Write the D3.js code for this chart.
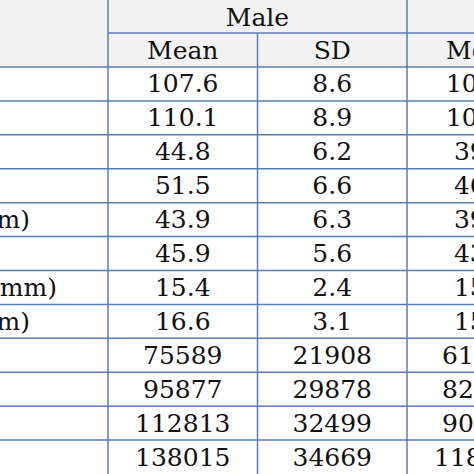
<!DOCTYPE html>
<html><head><meta charset="utf-8">
<script src="https://cdn.jsdelivr.net/npm/d3@7"></script>
<style>body{margin:0;background:#fff;overflow:hidden}</style>
</head><body>
<script>
var labels = ["", "", "", "", "Height (mm)", "", "Thickness (mm)", "Depth (mm)", "", "", "", ""];
var maleMean = ["107.6", "110.1", "44.8", "51.5", "43.9", "45.9", "15.4", "16.6", "75589", "95877", "112813", "138015"];
var maleSD = ["8.6", "8.9", "6.2", "6.6", "6.3", "5.6", "2.4", "3.1", "21908", "29878", "32499", "34669"];
var femaleMean = ["103.2", "105.8", "39.7", "46.1", "39.5", "43.2", "15.1", "15.9", "61204", "82310", "90415", "118327"];

var W = 474, H = 474, line = "#5a7db4";
var svg = d3.select("body").append("svg").attr("width", W).attr("height", H);

var x = d3.scaleLinear().domain([0, 2]).range([108, 407]);
var rowY = d3.scaleLinear().domain([0, 12]).range([67, 474]);
var rows = d3.range(maleMean.length);

svg.append("rect").attr("width", W).attr("height", 67).attr("fill", "#f2f2f2");
svg.append("rect").attr("y", 67).attr("width", W).attr("height", H - 67).attr("fill", "#fff");

var font = "'DejaVu Serif', serif";
var txt = function (sel) {
    return sel.attr("font-family", font).attr("font-size", 25).attr("fill", "#111")
        .attr("dominant-baseline", "central");
};

// header
txt(svg.append("text").attr("x", (x(0) + x(2)) / 2).attr("y", 17).attr("text-anchor", "middle").text("Male"));
[["Mean", 0], ["SD", 1], ["Mean", 2]].forEach(function (h) {
    txt(svg.append("text").attr("x", (x(h[1]) + x(h[1] + 1)) / 2).attr("y", 50)
        .attr("text-anchor", "middle").text(h[0]));
});

var cols = [maleMean, maleSD, femaleMean];
cols.forEach(function (col, ci) {
    txt(svg.append("g").selectAll("text").data(rows).enter().append("text")
        .attr("x", (x(ci) + x(ci + 1)) / 2)
        .attr("y", function (i) { return (rowY(i) + rowY(i + 1)) / 2; })
        .attr("text-anchor", "middle")
        .text(function (i) { return col[i]; }));
});

txt(svg.append("g").selectAll("text").data(rows).enter().append("text")
    .attr("x", function (i) { return labels[i].indexOf("Thick") === 0 ? 57 : 30; })
    .attr("y", function (i) { return (rowY(i) + rowY(i + 1)) / 2; })
    .attr("text-anchor", "end")
    .text(function (i) { return labels[i]; }));

// grid lines
var g = svg.append("g").attr("stroke", line).attr("stroke-width", 1.5);
g.append("line").attr("x1", x(0)).attr("x2", W).attr("y1", 33).attr("y2", 33);
g.selectAll(".h").data(d3.range(0, 12)).enter().append("line")
    .attr("x1", 0).attr("x2", W).attr("y1", rowY).attr("y2", rowY);
g.append("line").attr("x1", x(0)).attr("x2", x(0)).attr("y1", 0).attr("y2", H);
g.append("line").attr("x1", x(1)).attr("x2", x(1)).attr("y1", 33).attr("y2", H);
g.append("line").attr("x1", x(2)).attr("x2", x(2)).attr("y1", 0).attr("y2", H);
</script>
</body></html>
